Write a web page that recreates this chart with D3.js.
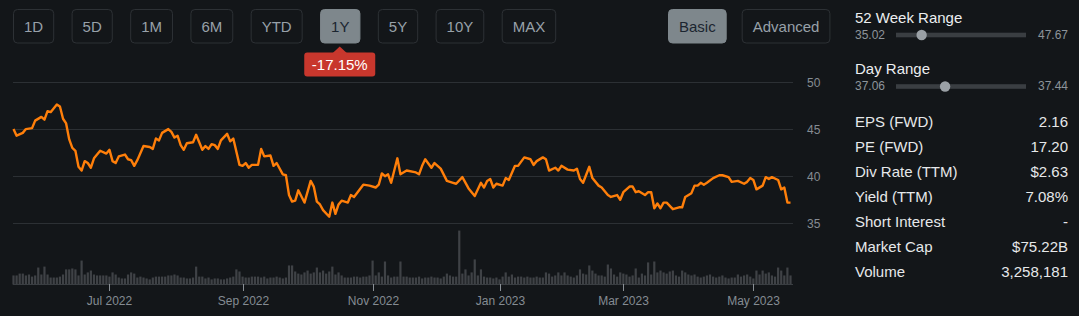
<!DOCTYPE html>
<html lang="en">
<head>
<meta charset="utf-8">
<title>1Y Price Chart</title>
<style>
  body { margin: 0; background: #131619; font-family: "Liberation Sans", Arial, sans-serif; }
  svg { display: block; }
</style>
</head>
<body>
<svg id="chart" width="1079" height="316"></svg>
<script src="https://d3js.org/d3.v7.min.js"></script>
<script>
// ---- data ----
const rangeButtons = ["1D", "5D", "1M", "6M", "YTD", "1Y", "5Y", "10Y", "MAX"];
const modeButtons = ["Basic", "Advanced"];
const activeRange = "1Y";
const activeMode = "Basic";
const changeLabel = "-17.15%";

const firstSession = "2022-05-17";
const lastSession = "2023-05-17";
const holidays = ["2022-05-30", "2022-06-20", "2022-07-04", "2022-09-05", "2022-11-24",
  "2022-12-26", "2023-01-02", "2023-01-16", "2023-02-20", "2023-04-07"];

// closing prices, keyed by trading session number
const closeSession = [0, 1, 3, 4, 6, 7, 9, 10, 11, 12, 14, 15, 16, 17, 18, 19, 20, 21, 22, 23,
  24, 25, 26, 28, 30, 31, 32, 33, 34, 36, 37, 38, 39, 40, 42, 44, 45, 46, 47, 48,
  50, 51, 52, 53, 54, 55, 56, 58, 59, 61, 62, 63, 64, 65, 66, 67, 69, 70, 71, 73,
  74, 75, 76, 77, 79, 80, 81, 83, 84, 85, 87, 88, 89, 90, 91, 92, 94, 96, 97, 98,
  99, 100, 102, 103, 104, 105, 106, 108, 109, 110, 113, 115, 117, 118, 119, 120, 121, 122, 124, 125,
  127, 130, 131, 132, 133, 135, 136, 138, 140, 142, 143, 145, 147, 149, 151, 152, 153, 154, 155, 156,
  158, 159, 160, 162, 163, 165, 167, 168, 169, 171, 172, 173, 175, 176, 177, 179, 181, 182, 183, 184,
  186, 187, 189, 190, 192, 193, 195, 196, 197, 199, 200, 201, 202, 204, 205, 206, 207, 208, 209, 210,
  211, 213, 215, 216, 217, 219, 220, 221, 222, 223, 224, 226, 228, 229, 231, 232, 234, 236, 237, 238,
  239, 240, 242, 243, 244, 245, 247, 248, 249, 250, 251];
const closeValue = [45.0, 44.3, 44.6, 45.0, 45.1, 45.9, 46.3, 46.0, 46.9, 46.8, 47.6, 47.4, 46.1, 45.6, 43.9, 43.0, 42.7, 41.0, 40.6, 41.6,
  41.4, 40.9, 41.9, 42.7, 42.4, 42.8, 41.6, 41.4, 42.1, 42.3, 41.8, 41.7, 41.1, 41.7, 43.2, 43.1, 42.9, 44.0, 43.8, 44.6,
  45.0, 44.7, 44.1, 44.3, 43.3, 42.8, 43.5, 43.6, 44.4, 42.8, 43.2, 42.9, 43.4, 43.3, 42.9, 43.8, 44.5, 43.7, 44.0, 41.2,
  41.1, 41.4, 40.9, 41.2, 41.2, 42.9, 42.1, 42.2, 41.1, 41.4, 40.2, 40.1, 38.0, 37.3, 37.4, 38.5, 37.2, 39.5, 38.9, 37.3,
  37.0, 36.4, 35.7, 37.2, 36.0, 37.0, 37.4, 37.2, 38.0, 37.8, 39.1, 39.0, 38.8, 39.1, 40.3, 40.0, 40.2, 39.3, 41.9, 40.2,
  40.6, 40.4, 40.2, 41.1, 41.8, 40.9, 41.4, 40.8, 39.5, 39.3, 39.2, 39.9, 38.7, 37.9, 39.3, 38.8, 39.5, 39.7, 38.8, 39.2,
  39.0, 39.8, 39.6, 41.1, 41.1, 42.0, 41.8, 41.2, 41.6, 42.0, 41.8, 40.6, 40.9, 40.6, 41.1, 40.7, 40.6, 40.8, 39.7, 39.3,
  41.0, 39.8, 39.0, 38.8, 38.0, 37.8, 38.0, 37.5, 38.3, 38.9, 38.9, 38.3, 38.4, 38.0, 38.3, 38.3, 36.6, 37.1, 36.6, 37.2,
  37.2, 36.5, 36.7, 36.7, 37.8, 38.2, 39.0, 39.0, 39.3, 39.1, 39.3, 39.8, 40.1, 40.1, 39.9, 39.4, 39.5, 39.2, 39.4, 39.8,
  39.6, 38.6, 39.0, 39.9, 39.7, 39.9, 39.6, 38.6, 38.8, 37.2, 37.2];

// daily volume, millions of shares, one per session
const volumeM = [
  3.9, 3.9, 4.7, 4.7, 3.9, 4.3, 3.4, 3.9, 7.3, 4.3,
  7.7, 4.3, 3.0, 3.0, 3.0, 3.4, 4.3, 6.5, 6.5, 6.9,
  6.5, 3.9, 10.3, 4.3, 5.2, 6.0, 4.3, 3.9, 3.9, 3.9,
  3.9, 3.4, 5.2, 4.3, 3.0, 2.6, 2.6, 4.3, 5.2, 4.7,
  3.0, 3.4, 3.0, 2.6, 2.2, 3.0, 3.4, 3.4, 3.4, 3.4,
  3.9, 3.9, 4.3, 3.9, 3.0, 3.0, 2.6, 2.6, 3.0, 7.7,
  3.4, 3.4, 2.6, 3.0, 2.2, 2.6, 2.6, 2.2, 2.2, 2.6,
  3.0, 3.4, 6.5, 5.6, 3.4, 3.0, 3.0, 3.4, 3.4, 3.4,
  3.0, 3.4, 2.6, 3.0, 3.0, 3.4, 3.0, 2.6, 3.0, 8.2,
  8.2, 5.6, 4.7, 4.3, 5.2, 6.0, 4.7, 5.2, 7.3, 5.2,
  6.0, 4.7, 5.6, 7.7, 4.3, 5.2, 3.9, 3.0, 3.0, 3.0,
  3.4, 3.4, 3.0, 3.4, 3.4, 3.9, 10.3, 3.9, 5.2, 3.4,
  9.9, 3.9, 3.0, 3.4, 3.4, 9.9, 3.4, 3.4, 3.0, 3.0,
  3.0, 3.4, 2.6, 3.0, 3.0, 3.4, 3.0, 3.0, 2.6, 3.4,
  4.7, 3.9, 3.4, 3.4, 23.2, 4.7, 6.5, 3.9, 5.2, 10.8,
  3.9, 6.5, 3.4, 3.0, 3.0, 2.6, 3.0, 2.2, 3.4, 5.2,
  3.4, 4.3, 3.0, 3.4, 3.4, 3.0, 3.4, 3.0, 3.0, 3.4,
  3.0, 3.0, 5.2, 4.7, 3.4, 3.9, 5.2, 3.9, 5.2, 3.9,
  3.4, 3.0, 3.9, 6.5, 4.7, 4.3, 8.2, 6.0, 4.7, 3.9,
  3.9, 3.4, 8.6, 6.9, 4.3, 3.4, 5.2, 4.7, 4.3, 3.4,
  3.9, 6.9, 3.0, 4.7, 3.9, 9.5, 4.3, 9.9, 5.2, 6.0,
  5.2, 4.7, 5.6, 6.0, 3.9, 3.4, 6.0, 5.2, 4.3, 3.9,
  4.3, 3.4, 3.0, 3.4, 3.9, 4.3, 3.4, 3.0, 3.4, 3.9,
  3.0, 2.6, 3.0, 3.0, 4.3, 3.4, 3.9, 4.3, 3.4, 2.6,
  6.0, 4.3, 6.0, 4.7, 5.2, 3.9, 3.4, 7.3, 6.0, 3.9,
  7.3, 3.9];

const priceTicks = [35, 40, 45, 50];
const monthTicks = ["2022-07-01", "2022-09-01", "2022-11-01", "2023-01-01", "2023-03-01", "2023-05-01"];
const monthLabels = ["Jul 2022", "Sep 2022", "Nov 2022", "Jan 2023", "Mar 2023", "May 2023"];

const rangeNames = ["52 Week Range", "Day Range"];
const rangeLow = [35.02, 37.06];
const rangeHigh = [47.67, 37.44];
const lastPrice = 37.2;

const statLabels = ["EPS (FWD)", "PE (FWD)", "Div Rate (TTM)", "Yield (TTM)", "Short Interest", "Market Cap", "Volume"];
const statValues = ["2.16", "17.20", "$2.63", "7.08%", "-", "$75.22B", "3,258,181"];

// ---- trading calendar ----
const fmt = d3.utcFormat("%Y-%m-%d");
const sessions = [];
for (let d = new Date(firstSession + "T00:00:00Z"); fmt(d) <= lastSession; d = d3.utcDay.offset(d, 1)) {
  const wd = d.getUTCDay();
  if (wd === 0 || wd === 6 || holidays.includes(fmt(d))) continue;
  sessions.push(fmt(d));
}

const svg = d3.select("#chart");
svg.append("rect").attr("width", 1079).attr("height", 316).attr("fill", "#131619");

// ---- scales ----
const x = d3.scaleLinear().domain([0, sessions.length - 1]).range([13.5, 790.5]);
const y = d3.scaleLinear().domain([35, 50]).range([223.3, 82]);
const yVol = d3.scaleLinear().domain([0, 25]).range([284.5, 226.4]);

// gridlines + price labels
const grid = svg.append("g");
grid.selectAll("line").data(priceTicks).join("line")
  .attr("x1", 13).attr("x2", 793)
  .attr("y1", d => Math.round(y(d)) + 0.5).attr("y2", d => Math.round(y(d)) + 0.5)
  .attr("stroke", "#2c3034").attr("stroke-width", 1);
grid.selectAll("text").data(priceTicks).join("text")
  .attr("x", 807).attr("y", d => y(d) + 4.5)
  .attr("fill", "#858c93").attr("font-size", 12)
  .text(d => d);

// volume bars
svg.append("g").selectAll("rect").data(volumeM).join("rect")
  .attr("x", (d, i) => x(i) - 1.1)
  .attr("width", 2.2)
  .attr("y", d => yVol(d))
  .attr("height", d => yVol(0) - yVol(d))
  .attr("fill", "#3f4246");

svg.append("line")
  .attr("x1", 13).attr("x2", 793).attr("y1", 284.5).attr("y2", 284.5)
  .attr("stroke", "#3a3e42");

// month ticks
function tickIndex(dateStr) {
  let i = d3.bisectLeft(sessions, dateStr);
  if (sessions[i] !== dateStr) i -= 1;
  return i;
}
const xTicks = svg.append("g");
monthTicks.forEach((m, k) => {
  const px = Math.round(x(tickIndex(m))) + 0.5;
  xTicks.append("line")
    .attr("x1", px).attr("x2", px).attr("y1", 284).attr("y2", 291)
    .attr("stroke", "#8a9096");
  xTicks.append("text")
    .attr("x", px).attr("y", 305).attr("text-anchor", "middle")
    .attr("fill", "#858c93").attr("font-size", 12)
    .text(monthLabels[k]);
});

// price line
const line = d3.line()
  .x(d => x(d[0]))
  .y(d => y(d[1]));
svg.append("path")
  .datum(d3.zip(closeSession, closeValue))
  .attr("d", line)
  .attr("fill", "none")
  .attr("stroke", "#ff7f0a")
  .attr("stroke-width", 2.4)
  .attr("stroke-linejoin", "round");

// ---- buttons ----
function drawButton(g, label, x0, active) {
  const t = g.append("text")
    .attr("y", 31.5).attr("font-size", 15)
    .attr("fill", active ? "#1b2530" : "#98a1a9")
    .text(label);
  const w = t.node().getComputedTextLength() + 21;
  g.insert("rect", "text")
    .attr("x", x0 + 0.5).attr("y", 9.5).attr("width", w).attr("height", 33.5)
    .attr("rx", 4)
    .attr("fill", active ? "#7e878c" : "none")
    .attr("stroke", active ? "#7e878c" : "#2d3135");
  t.attr("x", x0 + 0.5 + w / 2).attr("text-anchor", "middle");
  return w;
}
const btns = svg.append("g");
let bx = 13;
const btnPos = {};
rangeButtons.forEach(b => {
  const g = btns.append("g");
  const w = drawButton(g, b, bx, b === activeRange);
  btnPos[b] = bx + w / 2;
  bx += w + 18.4;
});
let mx = 668;
modeButtons.forEach(b => {
  const g = btns.append("g");
  const w = drawButton(g, b, mx, b === activeMode);
  mx += w + 16;
});

// change badge
const cx = btnPos[activeRange];
const badge = svg.append("g");
badge.append("path")
  .attr("d", `M${cx - 7},53 L${cx},46.5 L${cx + 7},53 Z`)
  .attr("fill", "#c8372d");
badge.append("rect")
  .attr("x", cx - 35.5).attr("y", 52.5).attr("width", 71).attr("height", 24)
  .attr("rx", 3).attr("fill", "#c8372d");
badge.append("text")
  .attr("x", cx).attr("y", 69.5).attr("text-anchor", "middle")
  .attr("font-size", 15).attr("fill", "#ffffff")
  .text(changeLabel);

// ---- right panel ----
const panel = svg.append("g");
const nameY = [22.5, 74];
rangeNames.forEach((n, i) => {
  panel.append("text").attr("x", 855).attr("y", nameY[i])
    .attr("font-size", 15).attr("fill", "#eceef0").text(n);
  const ty = nameY[i] + 12.5;
  panel.append("text").attr("x", 855).attr("y", ty + 3.8)
    .attr("font-size", 12).attr("fill", "#8d949a").text(rangeLow[i].toFixed(2));
  panel.append("text").attr("x", 1068).attr("y", ty + 3.8).attr("text-anchor", "end")
    .attr("font-size", 12).attr("fill", "#8d949a").text(rangeHigh[i].toFixed(2));
  panel.append("rect").attr("x", 896).attr("y", ty - 2.3).attr("width", 130).attr("height", 4.6)
    .attr("fill", "#3a3e42");
  const k = d3.scaleLinear().domain([rangeLow[i], rangeHigh[i]]).range([901, 1020.7]).clamp(true);
  panel.append("circle").attr("cx", k(lastPrice)).attr("cy", ty).attr("r", 5.2)
    .attr("fill", "#9aa0a5");
});

statLabels.forEach((s, i) => {
  const sy = 126.5 + i * 25;
  panel.append("text").attr("x", 855).attr("y", sy)
    .attr("font-size", 15).attr("fill", "#e6e8ea").text(s);
  panel.append("text").attr("x", 1068).attr("y", sy).attr("text-anchor", "end")
    .attr("font-size", 15).attr("fill", "#e6e8ea").text(statValues[i]);
});
</script>
</body>
</html>
